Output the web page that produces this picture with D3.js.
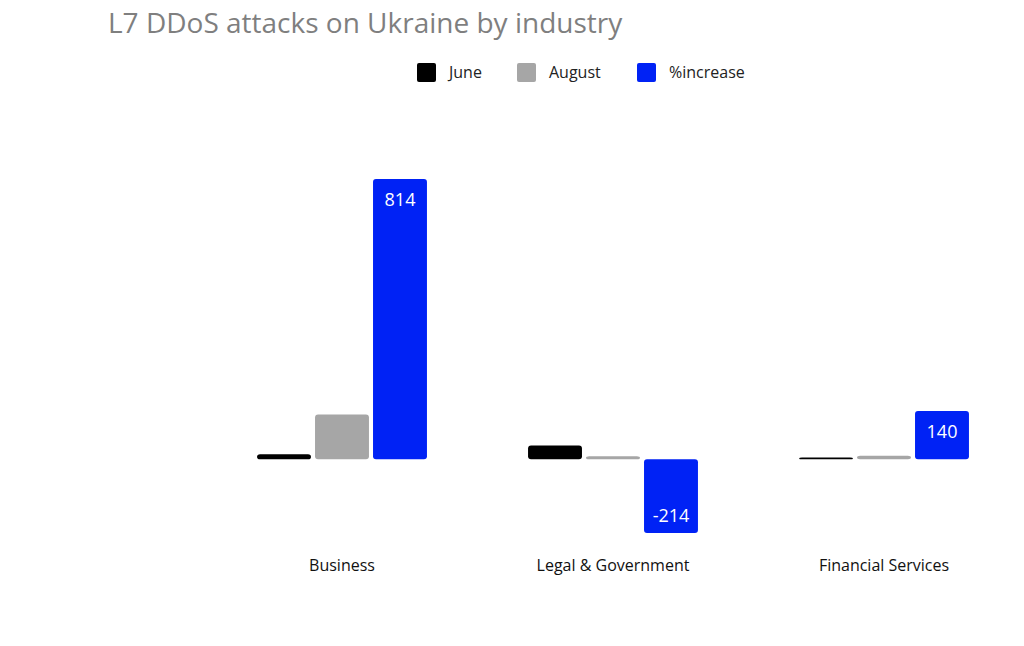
<!DOCTYPE html>
<html><head><meta charset="utf-8">
<script src="https://cdn.jsdelivr.net/npm/d3@7"></script>
<style>body{margin:0;background:#fff}</style>
</head><body>
<svg id="chart" width="1024" height="646"></svg>
<script>
var categories = ["Business", "Legal & Government", "Financial Services"];
var seriesNames = ["June", "August", "%increase"];
var june = [15, 40, 5];
var august = [130, 9, 10];
var increase = [814, -214, 140];
var colors = ["#000000", "#a6a6a6", "#0022f5"];

var svg = d3.select("#chart");
var font = "'Open Sans', 'Noto Sans', sans-serif";

svg.append("text")
    .attr("x", 108).attr("y", 33)
    .style("font-family", font).style("font-size", "28px")
    .style("fill", "#7f7f7f")
    .text("L7 DDoS attacks on Ukraine by industry");

// legend
var legendX = [417, 517, 637];
seriesNames.forEach(function (s, i) {
    var g = svg.append("g").attr("transform", "translate(" + legendX[i] + ",63)");
    g.append("rect").attr("width", 19).attr("height", 19).attr("rx", 2).style("fill", colors[i]);
    g.append("text").attr("x", 32).attr("y", 15)
        .style("font-family", font).style("font-size", "16px").style("fill", "#222")
        .text(s);
});

var x = d3.scaleBand().domain(categories).range([206.5, 1019.5])
    .paddingInner(0.373).paddingOuter(0.1865);
var xi = d3.scaleBand().domain(d3.range(3)).range([0, x.bandwidth()]).paddingInner(0.07);
var y = d3.scaleLinear().domain([-214, 814]).range([533, 179]);

var data = categories.map(function (c, i) {
    return { cat: c, vals: [june[i], august[i], increase[i]] };
});

var groups = svg.selectAll(".grp").data(data).join("g")
    .attr("class", "grp")
    .attr("transform", d => "translate(" + x(d.cat) + ",0)");

groups.selectAll("rect").data(d => d.vals).join("rect")
    .attr("x", (d, i) => xi(i))
    .attr("y", d => y(Math.max(0, d)))
    .attr("width", xi.bandwidth())
    .attr("height", d => Math.abs(y(d) - y(0)))
    .attr("rx", 3)
    .style("fill", (d, i) => colors[i]);

groups.selectAll(".lbl").data(d => d.vals.map((v, i) => ({ v: v, i: i })).filter(o => o.i == 2)).join("text")
    .attr("class", "lbl")
    .attr("x", o => xi(o.i) + xi.bandwidth() / 2)
    .attr("y", o => o.v > 0 ? y(o.v) + 27 : y(o.v) - 11)
    .attr("text-anchor", "middle")
    .style("font-family", font).style("font-size", "18px").style("fill", "#fff")
    .text(o => o.v);

svg.selectAll(".cat").data(categories).join("text")
    .attr("class", "cat")
    .attr("x", d => x(d) + x.bandwidth() / 2)
    .attr("y", 571)
    .attr("text-anchor", "middle")
    .style("font-family", font).style("font-size", "16px").style("fill", "#111")
    .text(d => d);
</script>
</body></html>
